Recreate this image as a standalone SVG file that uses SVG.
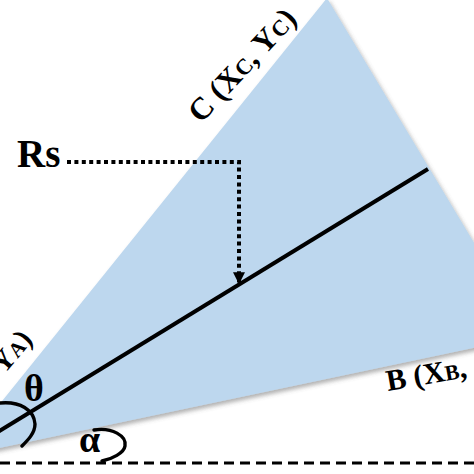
<svg xmlns="http://www.w3.org/2000/svg" width="474" height="474" viewBox="0 0 474 474">
<style>
.lbl{font-family:"Liberation Serif","Times New Roman",serif;font-weight:bold;fill:#000}
.sub{font-size:0.72em}
.dot{fill:none;stroke:#000;stroke-width:4;stroke-dasharray:4 3.4}
.arc{fill:none;stroke:#000;stroke-width:3.4;stroke-linecap:round}
</style>
<defs>
<filter id="sh" x="-10%" y="-10%" width="120%" height="120%">
<feDropShadow dx="2" dy="3" stdDeviation="2" flood-color="#555" flood-opacity="0.45"/>
</filter>
<marker id="ah" viewBox="0 0 10 10" refX="9" refY="5" markerWidth="3" markerHeight="3" markerUnits="strokeWidth" orient="auto">
<path d="M0,0 L10,5 L0,10 z" fill="#000"/>
</marker>
</defs>
<rect width="474" height="474" fill="#fff"/>
<g id="sector">
<polygon points="-43,457 327,-2 530,336" fill="#bdd7ee" filter="url(#sh)"/>
</g>
<g id="connectors">
<line x1="-43" y1="457" x2="428" y2="169" stroke="#000" stroke-width="4"/>
<path class="dot" d="M67,162 H239 V283" marker-end="url(#ah)"/>
<line x1="0" y1="463" x2="474" y2="463" stroke="#000" stroke-width="3" stroke-dasharray="10 6"/>
<path class="arc" d="M0,403 C20,401 34,410 35,424 C35,433 28,440 22,446"/>
<path class="arc" d="M94,430 C112,427 127,436 125,446 C124,453 112,459 102,461"/>
</g>
<g id="labels">
<text class="lbl" x="17" y="167" font-size="39">Rs</text>
<text class="lbl" font-size="31" transform="translate(201,124) rotate(-47)">C (X<tspan class="sub">C</tspan>, Y<tspan class="sub">C</tspan>)</text>
<text class="lbl" font-size="29" transform="translate(4,375) rotate(-50)">Y<tspan class="sub">A</tspan>)</text>
<text class="lbl" x="24" y="401" font-size="38">θ</text>
<text class="lbl" x="79" y="452" font-size="38">α</text>
<text class="lbl" font-size="30" transform="translate(388,391) rotate(-10)">B (X<tspan class="sub">B</tspan>,</text>
</g>
</svg>
